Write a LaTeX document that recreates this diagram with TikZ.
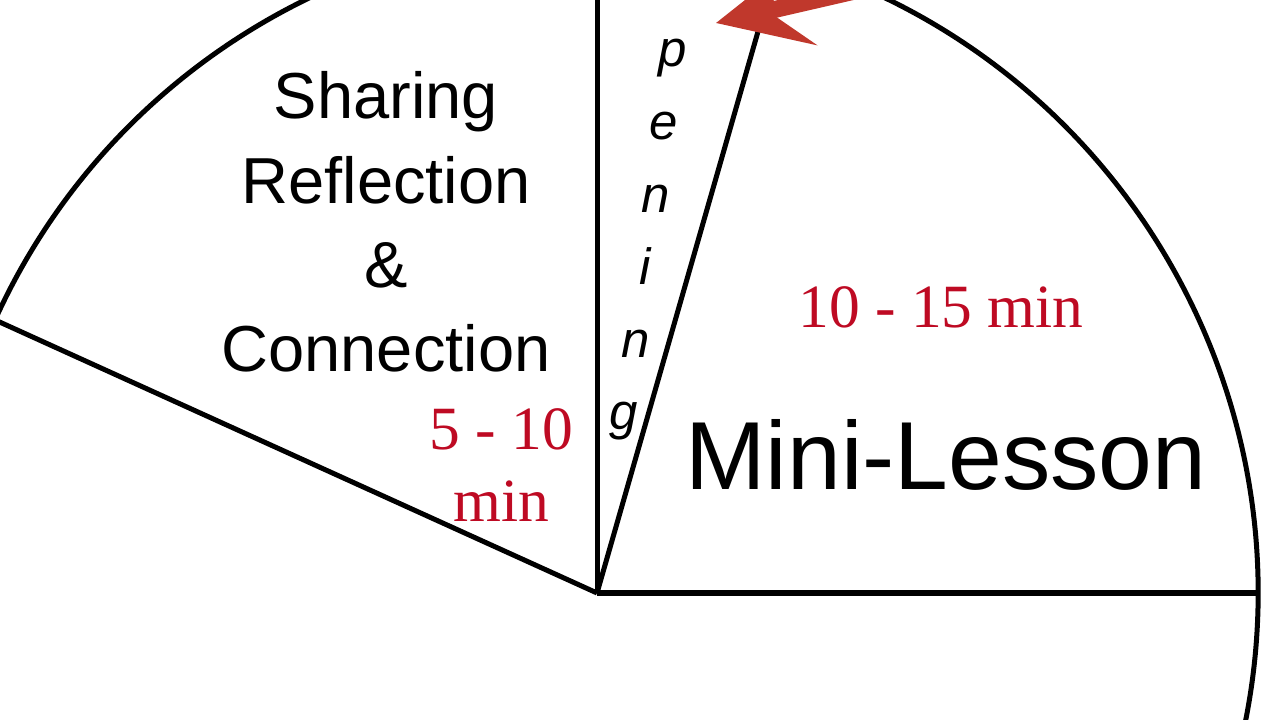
\documentclass[tikz,border=0pt]{standalone}
\usepackage{fontspec}
\setmainfont{Liberation Sans}
\newfontfamily\timesfont{Liberation Serif}
\usetikzlibrary{arrows.meta}
\definecolor{minred}{RGB}{190,10,35}
\definecolor{arrowred}{RGB}{192,56,44}

\begin{document}
\begin{tikzpicture}
\useasboundingbox (0,0) rectangle (12.8,-7.2);
\clip (0,0) rectangle (12.8,-7.2);
\tikzset{pieline/.style={line width=0.05cm, line join=round},
         minutes/.style={text=minred, inner sep=0pt, font=\timesfont\fontsize{17.5}{20.5}\selectfont, align=center},
         openletter/.style={inner sep=0pt, anchor=base, font=\itshape\fontsize{14.5}{17}\selectfont}}
\coordinate (c) at (5.97,-5.93);
\draw[pieline] (c) ++(-15:6.61) arc[start angle=-15, end angle=158, radius=6.61];
\draw[pieline] (c) -- ++(0:6.61);
\draw[pieline] (c) -- ++(90:6.61);
\draw[pieline] (c) -- ++(74:6.61);
\draw[pieline] (c) -- ++(155.6:6.61);
% slice labels
\node[inner sep=0pt, align=center, font=\fontsize{18.5}{24}\selectfont] (share) at (3.86,-2.22) {Sharing\\Reflection\\\&\\Connection};
\node[inner sep=0pt, anchor=base, font=\fontsize{27.5}{30}\selectfont] (mini) at (9.46,-4.90) {Mini-Lesson};
\node[minutes, anchor=base] (minitime) at (9.41,-3.28) {10 - 15 min};
\node[minutes, anchor=north] (sharetime) at (5.01,-4.08) {5 - 10\\min};
\foreach \ch/\x/\y [count=\k] in {p/6.73/-0.67, e/6.64/-1.40, n/6.56/-2.13, i/6.45/-2.85, n/6.36/-3.58, g/6.24/-4.30}
  \node[openletter] (open\k) at (\x,\y) {\ch};
% arrow into the opening slice
\coordinate (arrowtail) at (9.20,0.24);
\coordinate (arrowtip) at (7.16,-0.23);
\draw [-{Stealth[length=0.93cm, width=0.88cm, inset=0.4cm]}, line width=0.17cm, arrowred] (arrowtail) -- (arrowtip);
\end{tikzpicture}
\end{document}
